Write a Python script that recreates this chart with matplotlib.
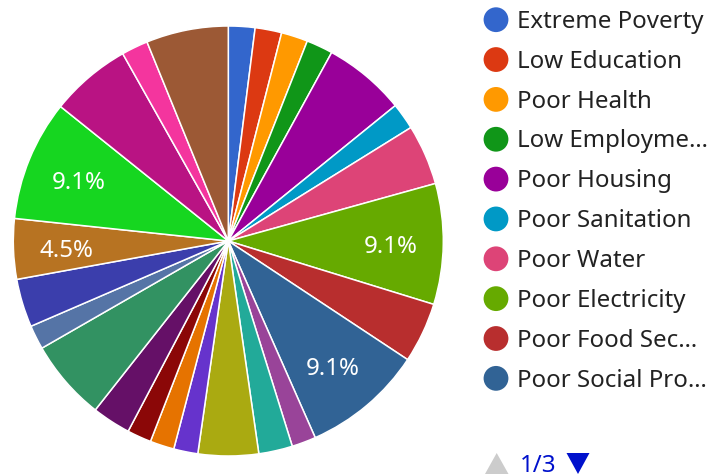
import numpy as np
import matplotlib
matplotlib.use("Agg")
import matplotlib.pyplot as plt
from matplotlib.patches import Circle, Polygon

plt.rcParams['font.family'] = ['Noto Sans', 'DejaVu Sans']

# slice names (only the first page of the legend is visible)
names = ["Extreme Poverty", "Low Education", "Poor Health", "Low Employment",
         "Poor Housing", "Poor Sanitation", "Poor Water", "Poor Electricity",
         "Poor Food Security", "Poor Social Protection",
         "Poor Transport", "Low Income", "Poor Nutrition", "Child Labour",
         "Poor Internet Access", "Poor Roads", "Gender Inequality",
         "Poor Governance", "High Crime", "Poor Childcare", "Low Literacy",
         "Unemployment", "Social Exclusion", "Disability", "Debt"]
values = [2.2, 2.2, 2.2, 2.2, 6.8, 2.2, 5, 10, 5, 10,
          2, 2.8, 5, 2, 2, 2, 3.2, 6.7, 2, 4, 5, 10, 6.7, 2.2, 6.8]
colors = ["#3366cc", "#dc3912", "#ff9900", "#109618", "#990099", "#0099c6",
          "#dd4477", "#66aa00", "#b82e2e", "#316395", "#994499", "#22aa99",
          "#aaaa11", "#6633cc", "#e67300", "#8b0707", "#651067", "#329262",
          "#5574a6", "#3b3eac", "#b77322", "#16d620", "#b91383", "#f4359e",
          "#9c5935"]
# slices whose percentage label fits inside the wedge
labeled = ["Poor Electricity", "Poor Social Protection", "Low Literacy", "Unemployment"]

W, H = 713, 477
fig = plt.figure(figsize=(W / 100, H / 100), dpi=100)
ax = fig.add_axes([0, 0, 1, 1])

cx, cy, r = 228.3, H - 242, 215
wedges, _ = ax.pie(values, colors=colors, startangle=90, counterclock=False,
                   center=(cx, cy), radius=r,
                   wedgeprops=dict(edgecolor="white", linewidth=1.1))
ax.set_xlim(0, W)
ax.set_ylim(0, H)
ax.set_aspect("equal")
ax.axis("off")

fs = 17.3
cap = 0.714 * fs * 100 / 72  # cap height in px, used to centre digits

total = sum(values)
for w, name, v in zip(wedges, names, values):
    if name not in labeled:
        continue
    mid = np.deg2rad((w.theta1 + w.theta2) / 2)
    lx = cx + 0.755 * r * np.cos(mid)
    ly = cy + 0.755 * r * np.sin(mid)
    ax.text(lx, ly - cap / 2, "{:.1f}%".format(v / total * 100), color="white",
            fontsize=fs, ha="center", va="baseline")

# legend, page 1 of 3
renderer = fig.canvas.get_renderer()
right_edge = 710
for i in range(10):
    yc = 20.7 + i * 39.85
    ax.add_patch(Circle((496, H - yc), 12.4, color=colors[i], lw=0))
    t = ax.text(517, H - (yc + 7.2), names[i], fontsize=fs, color="#222222",
                ha="left", va="baseline")
    label = names[i]
    while t.get_window_extent(renderer).x1 > right_edge:
        label = label[:-1]
        t.set_text(label.rstrip() + "…")

# pager
ax.add_patch(Polygon([(485, H - 475), (508.5, H - 475), (496.7, H - 454)],
                     closed=True, color="#cccccc", lw=0))
ax.text(519.5, H - 472.5, "1/3", fontsize=fs, color="#0011cc", ha="left", va="baseline")
ax.add_patch(Polygon([(566.5, H - 454), (589.5, H - 454), (578, H - 475)],
                     closed=True, color="#0011cc", lw=0))

fig.savefig("out.png", dpi=100)
